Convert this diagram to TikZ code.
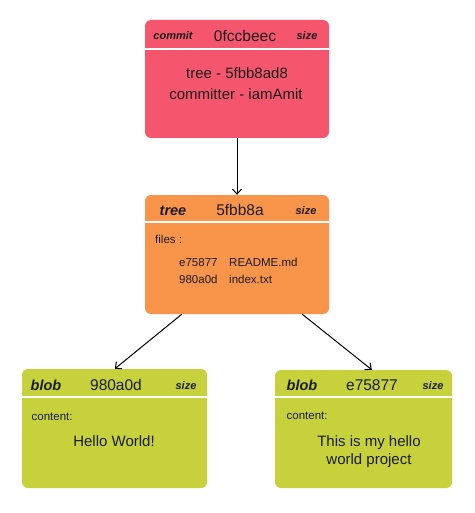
\documentclass[tikz,border=0pt]{standalone}
\usepackage{fontspec}
\usetikzlibrary{arrows.meta}
\setmainfont{Liberation Sans}
\definecolor{commitc}{HTML}{F5566E}
\definecolor{treec}{HTML}{F9954B}
\definecolor{blobc}{HTML}{C6D13B}
\definecolor{inkc}{HTML}{1C1C1C}
\begin{document}
\begin{tikzpicture}
[
    x=1pt, y=-1pt,
    box/.style={draw=none, rounded corners=6pt, inner sep=0pt},
    sep/.style={white, line width=2pt},
    lbl/.style={text=inkc, inner sep=0pt, anchor=base},
    tag/.style={lbl, font=\fontsize{11}{13}\selectfont\bfseries\itshape},
    kind/.style={lbl, font=\fontsize{14.5}{17}\selectfont\bfseries\itshape},
    hash/.style={lbl, font=\fontsize{15.5}{18}\selectfont},
    body/.style={lbl, font=\fontsize{15}{17.7}\selectfont},
    small/.style={lbl, anchor=base west, font=\fontsize{11.5}{13}\selectfont},
    arr/.style={-{Straight Barb[length=5pt, width=9pt]}, line width=1pt, black},
]
\useasboundingbox (0,0) rectangle (474,513);
% boxes
\node [box, fill=commitc, minimum width=184, minimum height=118] (commit) at (237,79) {};
\node [box, fill=treec, minimum width=184, minimum height=119] (tree) at (237,254.5) {};
\node [box, fill=blobc, minimum width=185, minimum height=119] (blob1) at (114.5,428.5) {};
\node [box, fill=blobc, minimum width=177, minimum height=118] (blob2) at (363.5,429) {};
\draw [sep] (commit.west |- 0,49) -- (commit.east |- 0,49);
\draw [sep] (tree.west |- 0,222) -- (tree.east |- 0,222);
\draw [sep] (blob1.west |- 0,397) -- (blob1.east |- 0,397);
\draw [sep] (blob2.west |- 0,397) -- (blob2.east |- 0,397);
% commit
\node [tag] (ckind) at (173,40) {commit};
\node [hash] (chash) at (245,41.5) {0fccbeec};
\node [tag] (csize) at (307,40) {size};
\node [body] (ctree) at (237,78.5) {tree - 5fbb8ad8};
\node [body] (cwho) at (236,100) {committer - iamAmit};
% tree
\node [kind] (tkind) at (173,215) {tree};
\node [hash] (thash) at (240,215.5) {5fbb8a};
\node [tag] (tsize) at (306,214) {size};
\node [small] (tfiles) at (155,243.5) {files :};
\node [small] (tsha1) at (179,266) {e75877};
\node [small] (tname1) at (229,266) {README.md};
\node [small] (tsha2) at (179,283.5) {980a0d};
\node [small] (tname2) at (229,283.5) {index.txt};
% blobs
\node [kind] (bkind1) at (46,390) {blob};
\node [hash] (bhash1) at (116,390) {980a0d};
\node [tag] (bsize1) at (186,389) {size};
\node [small] (blabel1) at (31.5,420) {content:};
\node [body] (btext1) at (114,446.5) {Hello World!};
\node [kind] (bkind2) at (302,390) {blob};
\node [hash] (bhash2) at (372,390) {e75877};
\node [tag] (bsize2) at (433,389) {size};
\node [small] (blabel2) at (286.5,419.5) {content:};
\node [body] (btext2) at (369,446.5) {This is my hello};
\node [body] (btext3) at (369,464.3) {world project};
% links
\draw [arr] (commit) -- (tree);
\draw [arr] ([xshift=37pt]tree.south west) -- ([xshift=93pt]blob1.north west);
\draw [arr] ([xshift=-27pt]tree.south east) -- ([xshift=97pt]blob2.north west);
\end{tikzpicture}
\end{document}
